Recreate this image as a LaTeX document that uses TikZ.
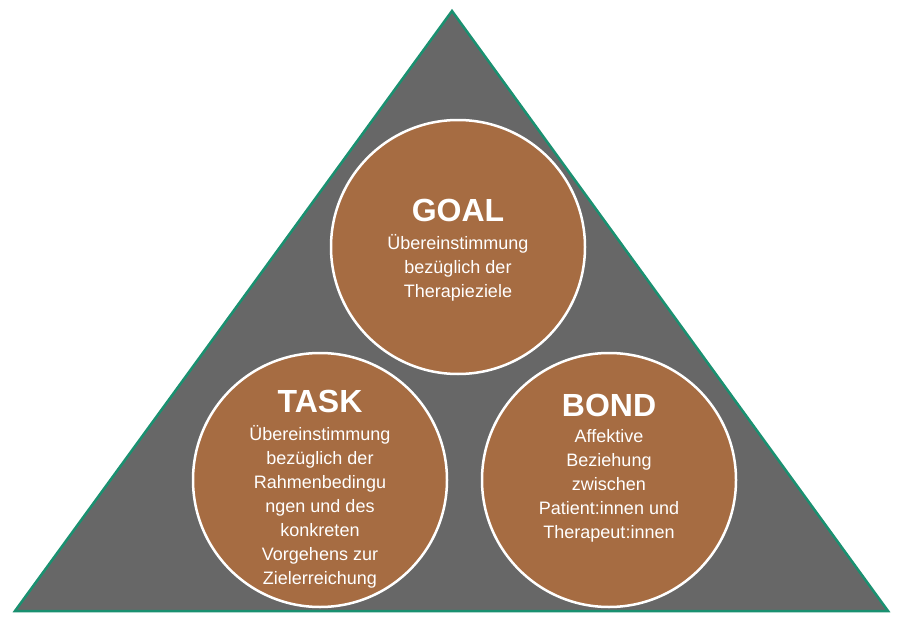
\documentclass[tikz,border=0pt]{standalone}
\usepackage{fontspec}
\setmainfont{Liberation Sans}
\definecolor{tri}{HTML}{676767}
\definecolor{brn}{HTML}{A66C42}
\definecolor{grn}{HTML}{1A9070}
\begin{document}
\begin{tikzpicture}[x=1pt,y=-1pt,
  circ/.style={circle,draw=white,line width=2.5pt,fill=brn,minimum size=254pt,inner sep=0pt},
  txt/.style={text=white,align=center,font=\fontsize{18}{24}\selectfont},
  ttl/.style={text=white,font=\bfseries\fontsize{32}{36}\selectfont}]
\useasboundingbox (0,0) rectangle (908,618);
\fill[white] (0,0) rectangle (908,618);
\draw[fill=tri,draw=grn,line width=2.5pt] (452,11) coordinate (apex) -- (15,611) coordinate (bl) -- (888,611) coordinate (br) -- cycle;
\node[circ] (goal) at (458,247) {};
\node[circ] (task) at (320,480) {};
\node[circ] (bond) at (609,480) {};
\node[ttl] (gt) at (458,210) {GOAL};
\node[txt] (gx) at (458,268) {Übereinstimmung\\bezüglich der\\Therapieziele};
\node[ttl] (tt) at (320,401) {TASK};
\node[txt] (tx) at (320,507) {Übereinstimmung\\bezüglich der\\Rahmenbedingu\\ngen und des\\konkreten\\Vorgehens zur\\Zielerreichung};
\node[ttl] (bt) at (609,405) {BOND};
\node[txt] (bx) at (609,486) {Affektive\\Beziehung\\zwischen\\Patient:innen und\\Therapeut:innen};
\end{tikzpicture}
\end{document}
